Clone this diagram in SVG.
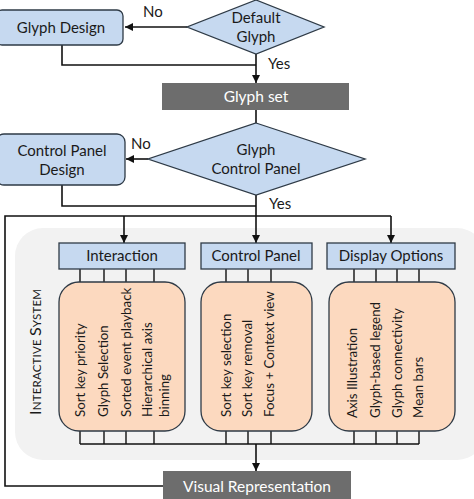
<svg xmlns="http://www.w3.org/2000/svg" width="474" height="499" viewBox="0 0 474 499">
<style>
text{font-family:Lato,"Liberation Sans",sans-serif;fill:#1a1a1a;}
.lbl{font-size:15px;text-anchor:middle;}
.item{font-size:13.3px;}
.blue{fill:#c6d9f0;stroke:#2e3a46;stroke-width:1.3;}
.orange{fill:#fcd9bf;stroke:#2e3a46;stroke-width:1.3;}
.dark{fill:#6d6d6d;}
.wt{fill:#ffffff;font-size:15.5px;text-anchor:middle;}
.yn{font-size:15px;}
.ln{fill:none;stroke:#111;stroke-width:1.6;}
.tk{fill:none;stroke:#111;stroke-width:1.4;}
</style>
<defs>
<marker id="ah" viewBox="0 0 8 8" refX="8" refY="4" markerWidth="8" markerHeight="8" markerUnits="userSpaceOnUse" orient="auto">
<path d="M0,0 L8,4 L0,8 z" fill="#111"/>
</marker>
</defs>
<rect x="0" y="0" width="474" height="499" fill="#ffffff"/>
<g id="system-panel">
<rect x="15" y="228" width="470" height="232" rx="28" fill="#f2f2f2"/>
<text transform="translate(41,415) rotate(-90)" style="font-size:11.5px;letter-spacing:0.2px"><tspan style="font-size:16px">I</tspan>NTERACTIVE <tspan style="font-size:16px">S</tspan>YSTEM</text>
</g>
<g id="connectors">
<line class="ln" x1="256" y1="-2" x2="256" y2="1"/>
<line class="ln" x1="187" y1="27" x2="125" y2="27" marker-end="url(#ah)"/>
<polyline class="ln" points="62,45 62,65 256,65"/>
<line class="ln" x1="256" y1="54" x2="256" y2="83" marker-end="url(#ah)"/>
<line class="ln" x1="256" y1="110" x2="256" y2="123"/>
<line class="ln" x1="148" y1="159" x2="126" y2="159" marker-end="url(#ah)"/>
<polyline class="ln" points="62,185 62,206 256,206"/>
<line class="ln" x1="256" y1="195" x2="256" y2="216"/>
<polyline class="ln" points="163,486 5,486 5,216 391,216"/>
<line class="ln" x1="124" y1="216" x2="124" y2="243" marker-end="url(#ah)"/>
<line class="ln" x1="256" y1="216" x2="256" y2="243" marker-end="url(#ah)"/>
<line class="ln" x1="391" y1="216" x2="391" y2="243" marker-end="url(#ah)"/>
<g class="tk">
<line x1="80" y1="269" x2="80" y2="282"/><line x1="104" y1="269" x2="104" y2="282"/><line x1="126" y1="269" x2="126" y2="282"/><line x1="154" y1="269" x2="154" y2="282"/>
<line x1="226" y1="269" x2="226" y2="282"/><line x1="248" y1="269" x2="248" y2="282"/><line x1="271" y1="269" x2="271" y2="282"/>
<line x1="354" y1="269" x2="354" y2="282"/><line x1="376" y1="269" x2="376" y2="282"/><line x1="397" y1="269" x2="397" y2="282"/><line x1="419" y1="269" x2="419" y2="282"/>
<line x1="80" y1="431" x2="80" y2="444"/><line x1="104" y1="431" x2="104" y2="444"/><line x1="126" y1="431" x2="126" y2="444"/><line x1="154" y1="431" x2="154" y2="444"/>
<line x1="226" y1="431" x2="226" y2="444"/><line x1="248" y1="431" x2="248" y2="444"/><line x1="271" y1="431" x2="271" y2="444"/>
<line x1="354" y1="431" x2="354" y2="444"/><line x1="376" y1="431" x2="376" y2="444"/><line x1="397" y1="431" x2="397" y2="444"/><line x1="419" y1="431" x2="419" y2="444"/>
<line x1="80" y1="444" x2="419" y2="444"/>
</g>
<line class="ln" x1="256" y1="444" x2="256" y2="471" marker-end="url(#ah)"/>
<text class="yn" x="143" y="17">No</text>
<text class="yn" x="268" y="69">Yes</text>
<text class="yn" x="131" y="149">No</text>
<text class="yn" x="269" y="209">Yes</text>
</g>
<g id="default-glyph">
<polygon class="blue" points="256,0 324,27 256,54 187,27"/>
<text class="lbl" x="256" y="23">Default</text>
<text class="lbl" x="256" y="42">Glyph</text>
</g>
<g id="glyph-design">
<rect class="blue" x="-4" y="10" width="127" height="35" rx="6"/>
<text class="lbl" x="61" y="33">Glyph Design</text>
</g>
<g id="glyph-set">
<rect class="dark" x="162" y="83" width="187" height="27"/>
<text class="wt" x="256" y="102">Glyph set</text>
</g>
<g id="glyph-control-panel">
<polygon class="blue" points="256,123 365,159 256,195 148,159"/>
<text class="lbl" x="256" y="155">Glyph</text>
<text class="lbl" x="256" y="174">Control Panel</text>
</g>
<g id="control-panel-design">
<rect class="blue" x="-4" y="134" width="129" height="51" rx="8"/>
<text class="lbl" x="62" y="156">Control Panel</text>
<text class="lbl" x="62" y="175">Design</text>
</g>
<g id="interaction">
<rect class="blue" x="59" y="243" width="126" height="26"/>
<text class="lbl" x="122" y="261">Interaction</text>
<rect class="orange" x="59" y="282" width="126" height="149" rx="20"/>
<text class="item" transform="translate(84.5,417) rotate(-90)">Sort key priority</text>
<text class="item" transform="translate(107.5,417) rotate(-90)">Glyph Selection</text>
<text class="item" transform="translate(130.5,417) rotate(-90)">Sorted event playback</text>
<text class="item" transform="translate(151.5,417) rotate(-90)">Hierarchical axis</text>
<text class="item" transform="translate(168.5,417) rotate(-90)">binning</text>
</g>
<g id="control-panel">
<rect class="blue" x="201" y="243" width="111" height="26"/>
<text class="lbl" x="256" y="261">Control Panel</text>
<rect class="orange" x="201" y="282" width="111" height="149" rx="20"/>
<text class="item" transform="translate(230.5,417) rotate(-90)">Sort key selection</text>
<text class="item" transform="translate(251.5,417) rotate(-90)">Sort key removal</text>
<text class="item" transform="translate(273.5,417) rotate(-90)">Focus + Context view</text>
</g>
<g id="display-options">
<rect class="blue" x="327" y="243" width="128" height="26"/>
<text class="lbl" x="391" y="261">Display Options</text>
<rect class="orange" x="329" y="282" width="126" height="149" rx="20"/>
<text class="item" transform="translate(356.5,418) rotate(-90)">Axis Illustration</text>
<text class="item" transform="translate(379.5,418) rotate(-90)">Glyph-based legend</text>
<text class="item" transform="translate(401.5,418) rotate(-90)">Glyph connectivity</text>
<text class="item" transform="translate(422.5,418) rotate(-90)">Mean bars</text>
</g>
<g id="visual-representation">
<rect class="dark" x="163" y="471" width="188" height="32"/>
<text class="wt" x="257" y="492">Visual Representation</text>
</g>
</svg>
